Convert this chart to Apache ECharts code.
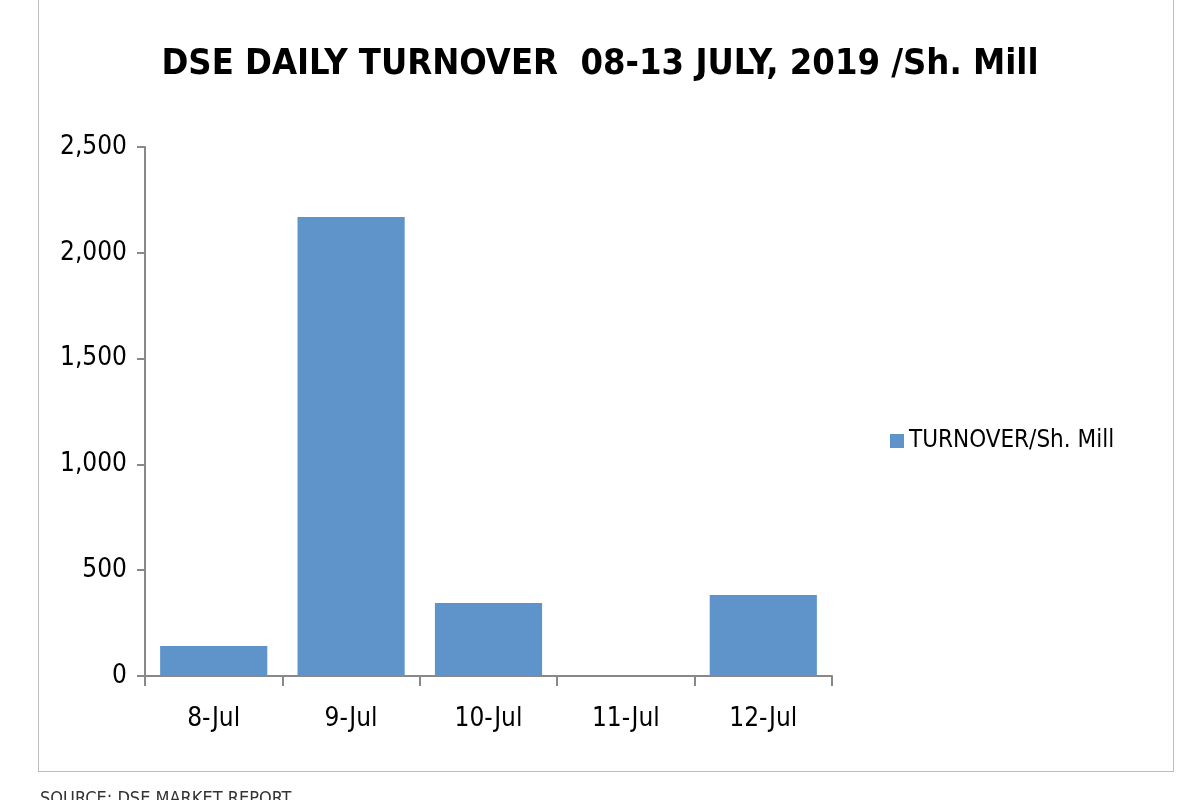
<!DOCTYPE html>
<html>
<head>
<meta charset="utf-8">
<script src="https://cdn.jsdelivr.net/npm/echarts@6/dist/echarts.min.js"></script>
<style>
  html, body { margin: 0; padding: 0; background: #fff; }
  #frame { position: absolute; left: 38px; top: -2px; width: 1136px; height: 774px; border: 1px solid #bdbdbd; box-sizing: border-box; }
  #chart { position: absolute; left: 0; top: 0; width: 1200px; height: 800px; }
</style>
</head>
<body>
<div id="frame"></div>
<div id="chart"></div>
<script>
// 数据
const categories = ['8-Jul', '9-Jul', '10-Jul', '11-Jul', '12-Jul'];
const turnover = [142, 2169, 345, 5, 383];
const seriesName = 'TURNOVER/Sh. Mill';

const font = '"Liberation Sans Narrow", "DejaVu Sans Condensed", sans-serif';
const chart = echarts.init(document.getElementById('chart'));
chart.setOption({
    animation: false,
    textStyle: { fontFamily: font },
    title: {
        text: 'DSE DAILY TURNOVER  08-13 JULY, 2019 /Sh. Mill',
        left: 'center', top: 42,
        textStyle: { fontFamily: font, fontSize: 36, fontWeight: 'bold', color: '#000' }
    },
    legend: {
        data: [seriesName], left: 885, top: 424, orient: 'vertical',
        itemWidth: 14, itemHeight: 14, icon: 'rect',
        textStyle: { fontFamily: font, fontSize: 24, color: '#000' }
    },
    grid: { left: 145, right: 368, top: 147, bottom: 124 },
    xAxis: {
        type: 'category', data: categories,
        axisLine: { lineStyle: { color: '#888', width: 2 } },
        axisTick: { show: true, length: 10, lineStyle: { color: '#888', width: 2 } },
        axisLabel: { fontFamily: font, fontSize: 26, color: '#000', margin: 30 }
    },
    yAxis: {
        type: 'value', min: 0, max: 2500, interval: 500,
        axisLine: { show: true, lineStyle: { color: '#888', width: 2 } },
        axisTick: { show: true, length: 8, inside: false, lineStyle: { color: '#888', width: 2 } },
        splitLine: { show: false },
        axisLabel: { fontFamily: font, fontSize: 26, color: '#000', margin: 18 }
    },
    series: [{
        name: seriesName, type: 'bar', data: turnover,
        barCategoryGap: '22%',
        itemStyle: { color: '#5f94cb' }
    }],
    graphic: [{
        type: 'text', left: 40, top: 790,
        style: { text: 'SOURCE: DSE MARKET REPORT', fontFamily: font, fontSize: 18, fill: '#333' }
    }]
});
</script>
</body>
</html>
